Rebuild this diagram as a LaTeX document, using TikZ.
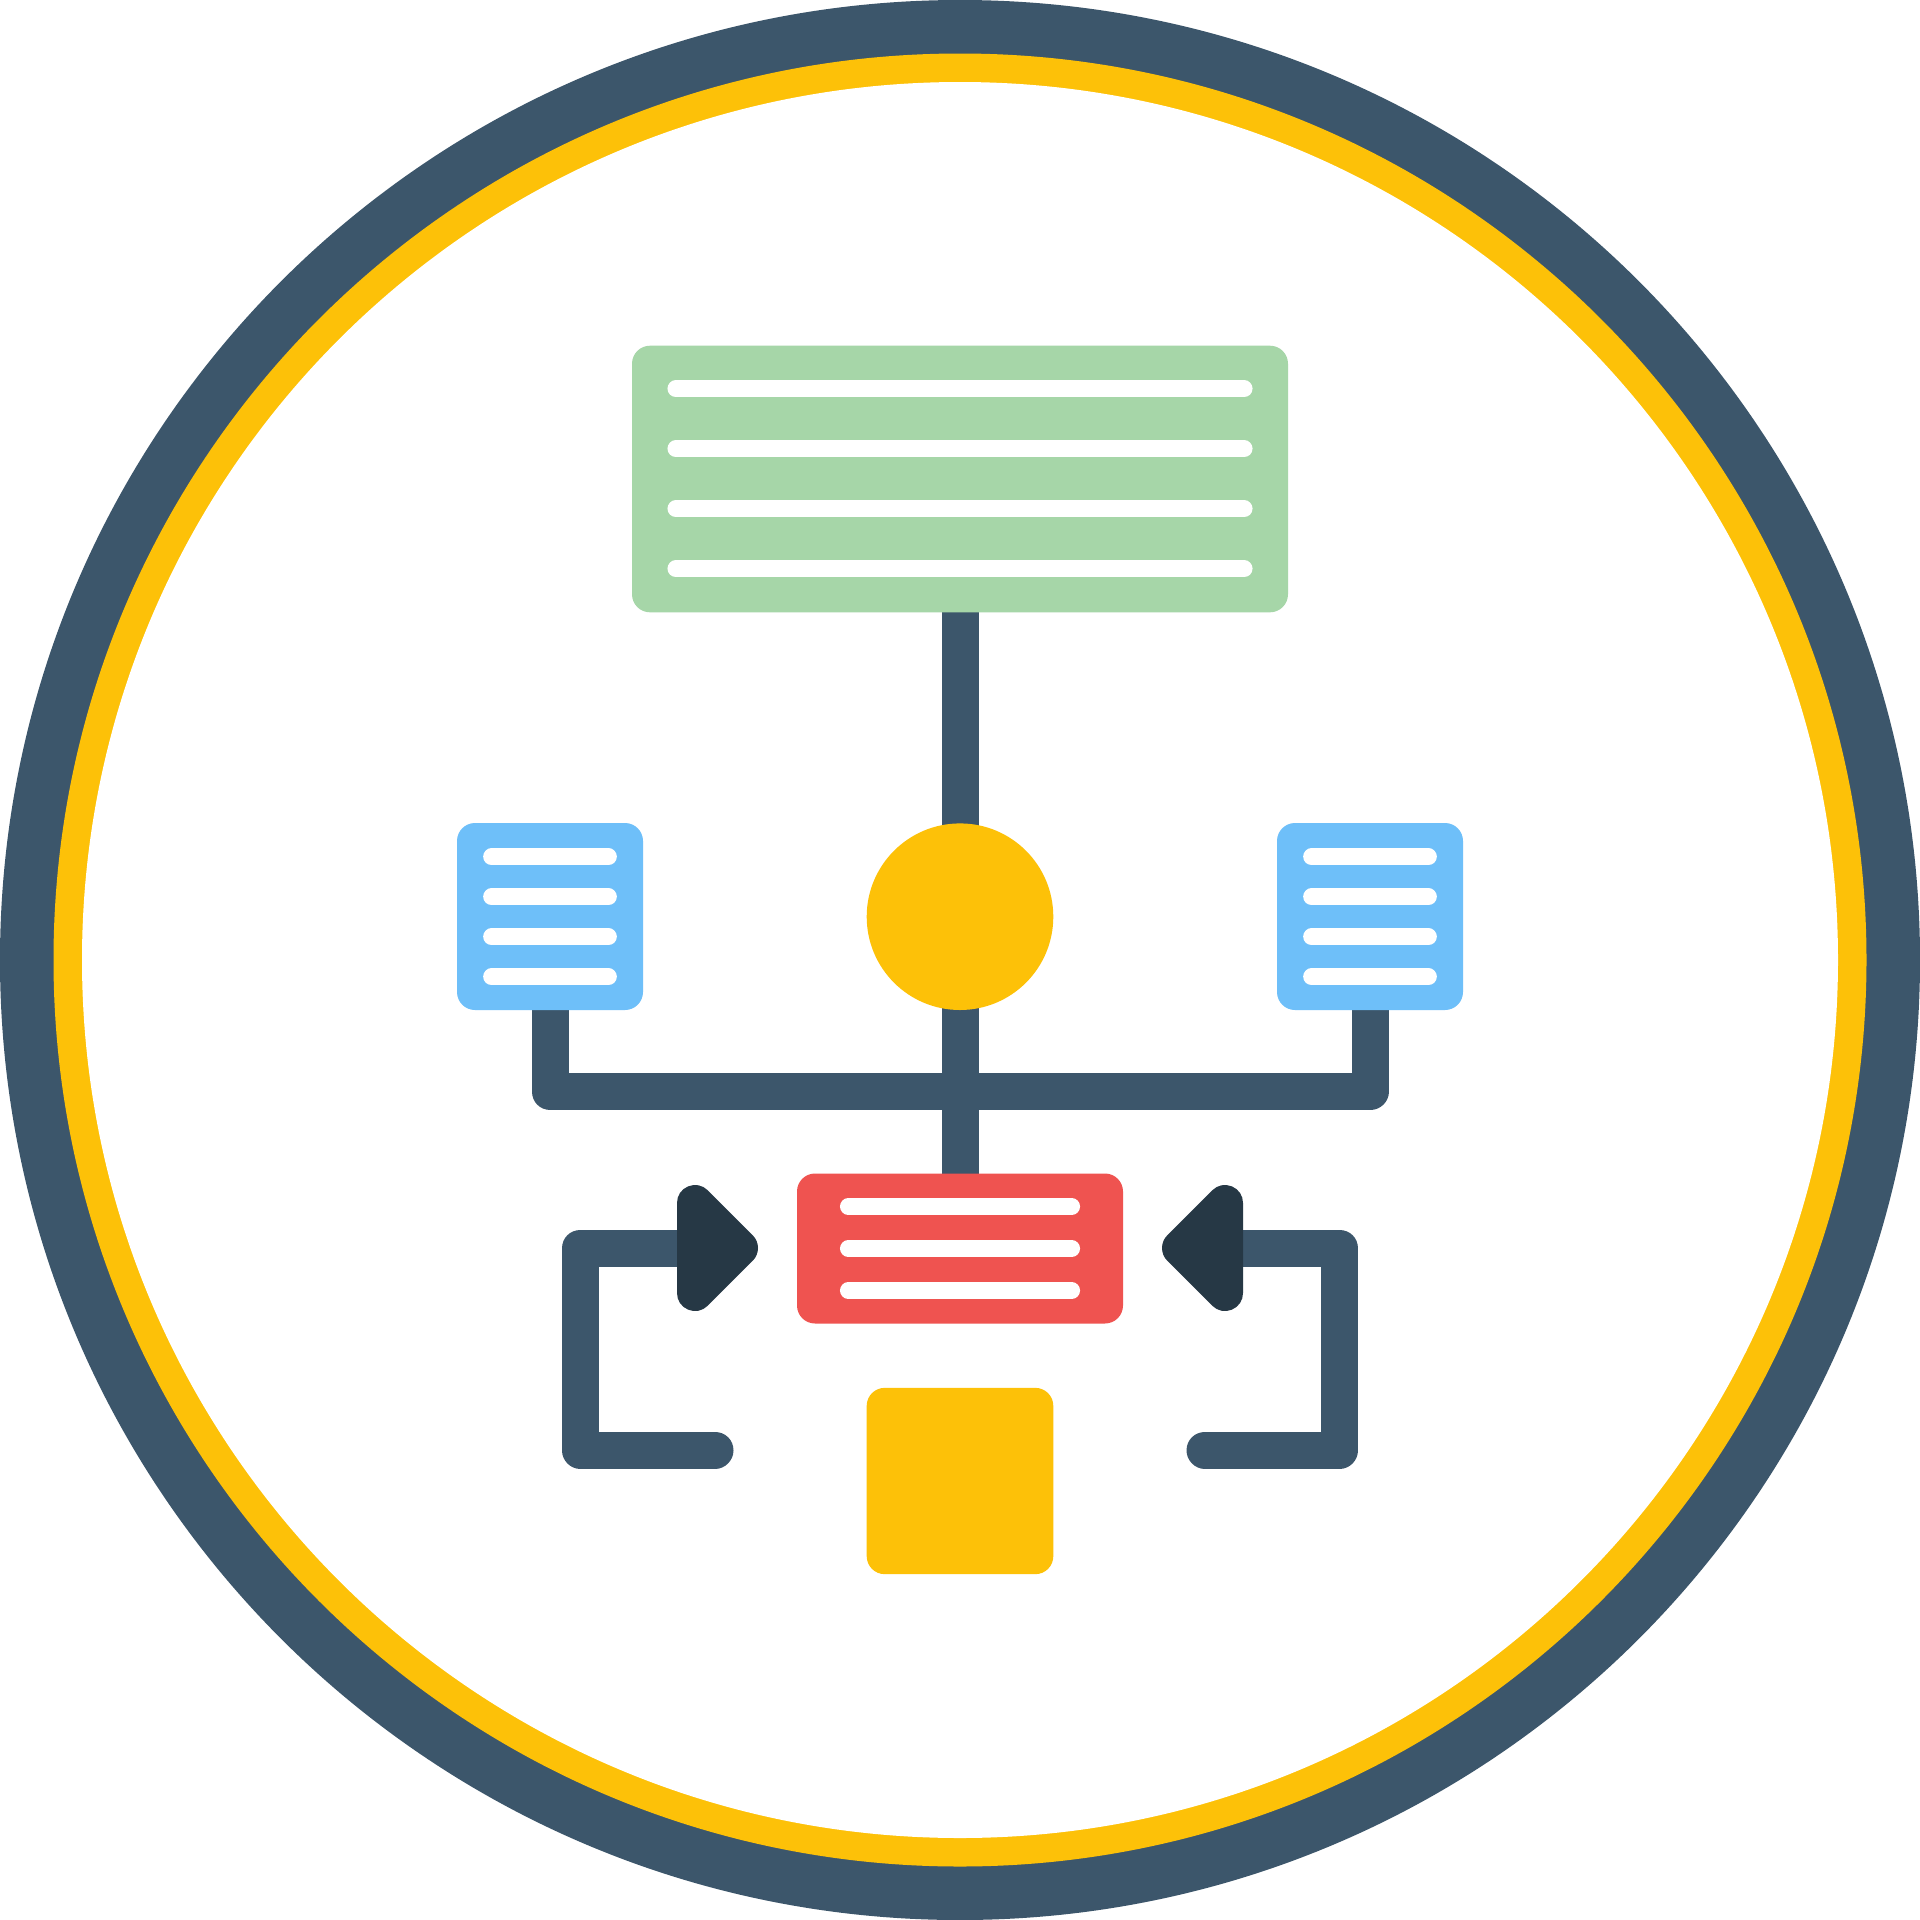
\documentclass[tikz,border=0pt]{standalone}
\usetikzlibrary{calc}
\definecolor{slate}{HTML}{3C566B}
\definecolor{ink}{HTML}{263845}
\definecolor{amber}{HTML}{FDC108}
\definecolor{mint}{HTML}{A6D6A8}
\definecolor{sky}{HTML}{6EBFF9}
\definecolor{coral}{HTML}{EF5350}
\pgfdeclarelayer{badge}
\pgfdeclarelayer{wires}
\pgfsetlayers{badge,wires,main}

\begin{document}
\begin{tikzpicture}[x=1pt, y=-1pt,
    card/.style={rectangle, rounded corners=18pt, inner sep=0pt},
    wire/.style={draw=slate, line width=37pt, line join=round},
    stripe/.style={draw=white, line width=16.7pt, line cap=round}]
    \useasboundingbox (0,0) rectangle (1920,1920);

    % badge rings
    \begin{pgfonlayer}{badge}
    \fill[white] (0,0) rectangle (1920,1920);
    \fill[slate] (960,960) circle[radius=960pt];
    \fill[amber] (960,960) circle[radius=906.5pt];
    \fill[white] (960,960) circle[radius=878pt];
    \end{pgfonlayer}

    \node[card, fill=mint, minimum width=656pt, minimum height=266.6pt] (top) at (960,479) {};
    \node[circle, fill=amber, inner sep=0pt, minimum size=186.6pt] (hub) at (960,916.7) {};
    \node[card, fill=sky, minimum width=186pt, minimum height=187pt] (lblue) at (550,916.5) {};
    \node[card, fill=sky, minimum width=186pt, minimum height=187pt] (rblue) at (1370,916.5) {};
    \node[card, fill=coral, minimum width=326pt, minimum height=150pt] (red) at (960,1248.5) {};
    \node[card, fill=amber, minimum width=186.6pt, minimum height=186.3pt] (doc) at (960,1481) {};

    \coordinate (larrow) at (695,1248);
    \coordinate (rarrow) at (1225,1248);
    \coordinate (lend) at (715,1450);
    \coordinate (rend) at (1205,1450);

    \begin{pgfonlayer}{wires}
    \draw[wire] (top.center) -- (red.center);
    \draw[wire] (lblue.center) -- ($(lblue.south)+(0,81.5)$) -| (rblue.center);
    \draw[wire, line cap=round] (larrow) -- (580.3,1248) |- (lend);
    \draw[wire, line cap=round] (rarrow) -- (1339.7,1248) |- (rend);
    \end{pgfonlayer}

    \filldraw[ink, line width=36pt, line join=round] (695,1203) -- (740,1248) -- (695,1293) -- cycle;
    \filldraw[ink, line width=36pt, line join=round] (1225,1203) -- (1180,1248) -- (1225,1293) -- cycle;

    \foreach \k in {0,...,3}
    \draw[stripe] ($(top.north west)+(44,43.3+60*\k)$) -- ($(top.north east)+(-44,43.3+60*\k)$);
    \foreach \b in {lblue,rblue}
    \foreach \k in {0,...,3}
    \draw[stripe] ($(\b.north)+(-58.5,34+40*\k)$) -- ++(117,0);
    \foreach \dy in {-42,0,42}
    \draw[stripe] ($(red.center)+(-111.7,\dy)$) -- ++(223.4,0);
\end{tikzpicture}
\end{document}
